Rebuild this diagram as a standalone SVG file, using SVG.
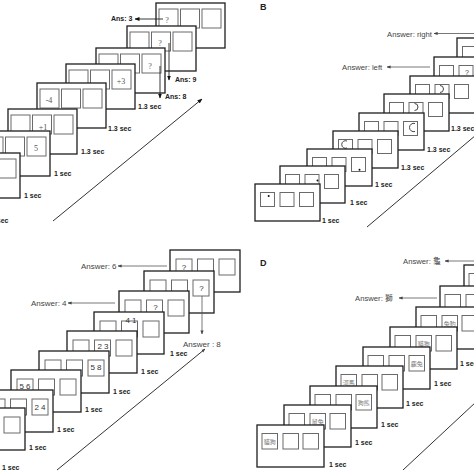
<svg xmlns="http://www.w3.org/2000/svg" width="474" height="474" viewBox="0 0 474 474">
<defs>
<style>
.f{fill:#fff;stroke:#1e1e1e;stroke-width:1.3}
.b{fill:none;stroke:#6a6a6a;stroke-width:1}
.t{font-family:"Liberation Sans",Arial,sans-serif;font-weight:bold;font-size:7px;fill:#222}
.a{font-family:"Liberation Sans",Arial,"Noto Sans CJK TC",sans-serif;font-size:7.7px;fill:#444}
.ac{font-family:"Liberation Sans",Arial,sans-serif;font-size:8px;fill:#444}
.n{font-family:"Liberation Serif","Times New Roman",serif;font-size:8px;fill:#555;text-anchor:middle}
.s{font-family:"Liberation Sans",Arial,sans-serif;font-size:8px;fill:#333;text-anchor:middle}
.c{font-family:"Noto Sans CJK TC","Noto Sans CJK SC",sans-serif;font-size:6px;fill:#777;text-anchor:middle}
.h{font-family:"Liberation Sans",Arial,sans-serif;font-weight:bold;font-size:9px;fill:#222}
.ar{stroke:#555;stroke-width:0.8;fill:none}
.ak{stroke:#222;stroke-width:0.9;fill:none}
.dg{stroke:#333;stroke-width:1;fill:none}
.sh{stroke:#444;stroke-width:1;fill:none}
</style>
<marker id="ah" viewBox="0 0 10 10" refX="9" refY="5" markerWidth="4" markerHeight="4" markerUnits="userSpaceOnUse" orient="auto"><path d="M0,1L10,5L0,9z" fill="#444"/></marker>
<marker id="ak" viewBox="0 0 10 10" refX="9" refY="5" markerWidth="5" markerHeight="5" markerUnits="userSpaceOnUse" orient="auto"><path d="M0,1L10,5L0,9z" fill="#111"/></marker>
</defs>

<!-- Panel A -->
<g id="a1"><rect class="f" x="156" y="3" width="69" height="45"/><rect class="b" x="159" y="9" width="19" height="19"/><rect class="b" x="180.5" y="9" width="19" height="19"/><rect class="b" x="202" y="9" width="19" height="19"/><text class="n" x="167" y="23">?</text></g>
<g id="a2"><rect class="f" x="127" y="26" width="69" height="45"/><rect class="b" x="130" y="32" width="19" height="19"/><rect class="b" x="151.5" y="32" width="19" height="19"/><rect class="b" x="173" y="32" width="19" height="19"/><text class="n" x="160" y="46">?</text></g>
<g id="a3"><rect class="f" x="96" y="48" width="69" height="45"/><rect class="b" x="99" y="54" width="19" height="19"/><rect class="b" x="120.5" y="54" width="19" height="19"/><rect class="b" x="142" y="54" width="19" height="19"/><text class="n" x="150" y="69">?</text></g>
<g id="a4"><rect class="f" x="66" y="64" width="69" height="45"/><rect class="b" x="69" y="70" width="19" height="19"/><rect class="b" x="90.5" y="70" width="19" height="19"/><rect class="b" x="112" y="70" width="19" height="19"/><text class="n" x="121" y="84">+3</text></g>
<g id="a5"><rect class="f" x="37" y="83" width="69" height="45"/><rect class="b" x="40" y="89" width="19" height="19"/><rect class="b" x="61.5" y="89" width="19" height="19"/><rect class="b" x="83" y="89" width="19" height="19"/><text class="n" x="49" y="103">-4</text></g>
<g id="a6"><rect class="f" x="8" y="109" width="69" height="45"/><rect class="b" x="11" y="115" width="19" height="19"/><rect class="b" x="32.5" y="115" width="19" height="19"/><rect class="b" x="54" y="115" width="19" height="19"/><text class="n" x="43" y="130">+1</text></g>
<g id="a7"><rect class="f" x="-19" y="131" width="69" height="45"/><rect class="b" x="-16" y="137" width="19" height="19"/><rect class="b" x="5.5" y="137" width="19" height="19"/><rect class="b" x="27" y="137" width="19" height="19"/><text class="n" x="36" y="151">5</text></g>
<g id="a8"><rect class="f" x="-49" y="153" width="69" height="45"/><rect class="b" x="-46" y="159" width="19" height="19"/><rect class="b" x="-24.5" y="159" width="19" height="19"/><rect class="b" x="-3" y="159" width="19" height="19"/></g>
<g id="a-labels">
<text class="t" x="111" y="21">Ans: 3</text>
<text class="t" x="175" y="82">Ans: 9</text>
<text class="t" x="165" y="99">Ans: 8</text>
<text class="t" x="138" y="108.5">1.3 sec</text>
<text class="t" x="108" y="131">1.3 sec</text>
<text class="t" x="81" y="153.5">1.3 sec</text>
<text class="t" x="54" y="176">1 sec</text>
<text class="t" x="24" y="198">1 sec</text>
<text class="t" x="-9" y="223">1 sec</text>
</g>

<!-- Panel B -->
<text class="h" x="260" y="9.5">B</text>
<g id="b9"><rect class="f" x="457" y="38" width="65" height="37"/><rect class="b" x="462.5" y="46.5" width="14" height="14"/></g>
<g id="b8"><rect class="f" x="434" y="57" width="65" height="37"/><rect class="b" x="439.5" y="65.5" width="14" height="14"/><rect class="b" x="459" y="65.5" width="14" height="14"/><text class="s" x="467" y="75" style="font-size:7px;fill:#444">?</text></g>
<g id="b7"><rect class="f" x="410" y="76" width="65" height="37"/><rect class="b" x="415.5" y="84.5" width="14" height="14"/><rect class="b" x="435" y="84.5" width="14" height="14"/><rect class="b" x="454.5" y="84.5" width="14" height="14"/><path class="sh" d="M440,85.5A3.5,3.5 0 1,1 440,92.5"/></g>
<g id="b6"><rect class="f" x="384" y="94" width="65" height="37"/><rect class="b" x="389.5" y="102.5" width="14" height="14"/><rect class="b" x="409" y="102.5" width="14" height="14"/><rect class="b" x="428.5" y="102.5" width="14" height="14"/><path class="sh" d="M414.5,103.5A3.5,3.5 0 1,1 414.5,110.5"/></g>
<g id="b5"><rect class="f" x="359" y="113" width="65" height="37"/><rect class="b" x="364.5" y="121.5" width="14" height="14"/><rect class="b" x="384" y="121.5" width="14" height="14"/><rect class="b" x="403.5" y="121.5" width="14" height="14"/><path class="sh" d="M415,123.5A4.2,4.2 0 1,0 415,131.5"/></g>
<g id="b4"><rect class="f" x="333" y="131" width="65" height="37"/><rect class="b" x="338.5" y="139.5" width="14" height="14"/><rect class="b" x="358" y="139.5" width="14" height="14"/><rect class="b" x="377.5" y="139.5" width="14" height="14"/><path class="sh" d="M347,141A3.8,3.8 0 1,0 347,148"/></g>
<g id="b3"><rect class="f" x="307" y="149" width="65" height="37"/><rect class="b" x="312.5" y="157.5" width="14" height="14"/><rect class="b" x="332" y="157.5" width="14" height="14"/><rect class="b" x="351.5" y="157.5" width="14" height="14"/><circle cx="359.5" cy="169.8" r="1" fill="#111"/></g>
<g id="b2"><rect class="f" x="280" y="166" width="65" height="37"/><rect class="b" x="285.5" y="174.5" width="14" height="14"/><rect class="b" x="305" y="174.5" width="14" height="14"/><rect class="b" x="324.5" y="174.5" width="14" height="14"/><circle cx="317.5" cy="180.5" r="1" fill="#111"/></g>
<g id="b1"><rect class="f" x="255" y="184" width="65" height="37"/><rect class="b" x="260.5" y="192.5" width="14" height="14"/><rect class="b" x="280" y="192.5" width="14" height="14"/><rect class="b" x="299.5" y="192.5" width="14" height="14"/><circle cx="268.7" cy="196" r="1" fill="#111"/></g>
<g id="b-labels">
<text class="a" x="387" y="36.5">Answer: right</text>
<text class="a" x="342" y="69.5">Answer: left</text>
<text class="t" x="322" y="222.5">1 sec</text>
<text class="t" x="350" y="204.5">1 sec</text>
<text class="t" x="375" y="186.5">1 sec</text>
<text class="t" x="401" y="169.5">1.3 sec</text>
<text class="t" x="427" y="151.5">1.3 sec</text>
<text class="t" x="451" y="130.5">1.3 sec</text>
</g>

<!-- Panel C -->
<g id="c1"><rect class="f" x="170" y="250" width="70" height="42"/><rect class="b" x="176" y="259" width="16" height="16"/><rect class="b" x="197.5" y="259" width="16" height="16"/><rect class="b" x="219" y="259" width="16" height="16"/><text class="s" x="184" y="269.5">?</text></g>
<g id="c2"><rect class="f" x="144" y="271" width="70" height="42"/><rect class="b" x="150" y="280" width="16" height="16"/><rect class="b" x="171.5" y="280" width="16" height="16"/><rect class="b" x="193" y="280" width="16" height="16"/><text class="s" x="201.5" y="290.5">?</text></g>
<g id="c3"><rect class="f" x="119" y="291" width="70" height="42"/><rect class="b" x="125" y="300" width="16" height="16"/><rect class="b" x="146.5" y="300" width="16" height="16"/><rect class="b" x="168" y="300" width="16" height="16"/><text class="s" x="155.5" y="310">?</text></g>
<g id="c4"><rect class="f" x="94" y="312" width="70" height="42"/><rect class="b" x="100" y="321" width="16" height="16"/><rect class="b" x="121.5" y="321" width="16" height="16"/><rect class="b" x="143" y="321" width="16" height="16"/><text class="s" x="131" y="322.5">4 1</text></g>
<g id="c5"><rect class="f" x="67" y="331" width="70" height="42"/><rect class="b" x="73" y="340" width="16" height="16"/><rect class="b" x="94.5" y="340" width="16" height="16"/><rect class="b" x="116" y="340" width="16" height="16"/><text class="s" x="103" y="349">2 3</text></g>
<g id="c6"><rect class="f" x="39" y="351" width="70" height="42"/><rect class="b" x="45" y="360" width="16" height="16"/><rect class="b" x="66.5" y="360" width="16" height="16"/><rect class="b" x="88" y="360" width="16" height="16"/><text class="s" x="96" y="370">5 8</text></g>
<g id="c7"><rect class="f" x="11" y="370" width="70" height="42"/><rect class="b" x="17" y="379" width="16" height="16"/><rect class="b" x="38.5" y="379" width="16" height="16"/><rect class="b" x="60" y="379" width="16" height="16"/><text class="s" x="25" y="389">5 6</text></g>
<g id="c8"><rect class="f" x="-17" y="390" width="70" height="42"/><rect class="b" x="-11" y="399" width="16" height="16"/><rect class="b" x="10.5" y="399" width="16" height="16"/><rect class="b" x="32" y="399" width="16" height="16"/><text class="s" x="40" y="410">2 4</text></g>
<g id="c9"><rect class="f" x="-45" y="408" width="70" height="42"/><rect class="b" x="-39" y="417" width="16" height="16"/><rect class="b" x="-17.5" y="417" width="16" height="16"/><rect class="b" x="4" y="417" width="16" height="16"/></g>
<g id="c-labels">
<text class="ac" x="81" y="269">Answer: 6</text>
<text class="ac" x="31" y="306">Answer: 4</text>
<text class="ac" x="183" y="347">Answer : 8</text>
<text class="t" x="170" y="356">1 sec</text>
<text class="t" x="141" y="374">1 sec</text>
<text class="t" x="113" y="394">1 sec</text>
<text class="t" x="85" y="412">1 sec</text>
<text class="t" x="57" y="432">1 sec</text>
<text class="t" x="29" y="450">1 sec</text>
<text class="t" x="2" y="469.5">1 sec</text>
</g>

<!-- Panel D -->
<text class="h" x="260" y="265.5">D</text>
<g id="d9"><rect class="f" x="464" y="265" width="67" height="42"/><rect class="b" x="469" y="273.5" width="15.5" height="15.5"/></g>
<g id="d8"><rect class="f" x="440" y="286" width="67" height="42"/><rect class="b" x="445" y="294.5" width="15.5" height="15.5"/><rect class="b" x="466" y="294.5" width="15.5" height="15.5"/></g>
<g id="d7"><rect class="f" x="416" y="307" width="67" height="42"/><rect class="b" x="421" y="315.5" width="15.5" height="15.5"/><rect class="b" x="442" y="315.5" width="15.5" height="15.5"/><rect class="b" x="462" y="315.5" width="15.5" height="15.5"/><text class="c" x="449.75" y="325.5">兔豹</text></g>
<g id="d6"><rect class="f" x="390" y="327" width="67" height="42"/><rect class="b" x="395" y="335.5" width="15.5" height="15.5"/><rect class="b" x="416" y="335.5" width="15.5" height="15.5"/><rect class="b" x="436" y="335.5" width="15.5" height="15.5"/><text class="c" x="423.75" y="345.5">貓狗</text></g>
<g id="d5"><rect class="f" x="363" y="347" width="67" height="42"/><rect class="b" x="368" y="355.5" width="15.5" height="15.5"/><rect class="b" x="389" y="355.5" width="15.5" height="15.5"/><rect class="b" x="409" y="355.5" width="15.5" height="15.5"/><text class="c" x="416.75" y="365.5">鹿兔</text></g>
<g id="d4"><rect class="f" x="336" y="366" width="67" height="42"/><rect class="b" x="341" y="374.5" width="15.5" height="15.5"/><rect class="b" x="362" y="374.5" width="15.5" height="15.5"/><rect class="b" x="382" y="374.5" width="15.5" height="15.5"/><text class="c" x="348.75" y="384.5">河馬</text></g>
<g id="d3"><rect class="f" x="310" y="386" width="67" height="42"/><rect class="b" x="315" y="394.5" width="15.5" height="15.5"/><rect class="b" x="336" y="394.5" width="15.5" height="15.5"/><rect class="b" x="356" y="394.5" width="15.5" height="15.5"/><text class="c" x="363.75" y="404.5">狗熊</text></g>
<g id="d2"><rect class="f" x="284" y="405" width="67" height="42"/><rect class="b" x="289" y="413.5" width="15.5" height="15.5"/><rect class="b" x="310" y="413.5" width="15.5" height="15.5"/><rect class="b" x="330" y="413.5" width="15.5" height="15.5"/><text class="c" x="317.75" y="423.5">鼠兔</text></g>
<g id="d1"><rect class="f" x="257" y="425" width="67" height="42"/><rect class="b" x="262" y="433.5" width="15.5" height="15.5"/><rect class="b" x="283" y="433.5" width="15.5" height="15.5"/><rect class="b" x="303" y="433.5" width="15.5" height="15.5"/><text class="c" x="269.75" y="443.5">貓狗</text></g>
<g id="d-labels">
<text class="a" x="403" y="263.5">Answer: 龜</text>
<text class="a" x="355" y="300.5">Answer: 獅</text>
<text class="t" x="329" y="467">1 sec</text>
<text class="t" x="355" y="445">1 sec</text>
<text class="t" x="381" y="427">1 sec</text>
<text class="t" x="406" y="406">1 sec</text>
<text class="t" x="434" y="386">1 sec</text>
<text class="t" x="460" y="365.5">1 sec</text>
</g>

<!-- Connectors -->
<g id="connectors">
<line class="ak" x1="163" y1="19" x2="135" y2="19" marker-end="url(#ak)"/>
<line class="ak" x1="169" y1="43" x2="169" y2="80" marker-end="url(#ak)"/>
<line class="ak" x1="160" y1="66" x2="160" y2="98" marker-end="url(#ak)"/>
<line class="dg" x1="53" y1="221" x2="202" y2="99" marker-end="url(#ak)"/>
<line class="ar" x1="474" y1="33.5" x2="434" y2="33.5" marker-end="url(#ah)"/>
<line class="ar" x1="430" y1="67" x2="387" y2="67" marker-end="url(#ah)"/>
<line class="dg" x1="367" y1="227" x2="476" y2="135"/>
<line class="ar" x1="167" y1="266" x2="118" y2="266" marker-end="url(#ah)"/>
<line class="ar" x1="115" y1="303" x2="68" y2="303" marker-end="url(#ah)"/>
<line class="ar" x1="202" y1="296" x2="202" y2="334" marker-end="url(#ah)"/>
<line class="dg" x1="57" y1="470" x2="205" y2="349" marker-end="url(#ah)"/>
<line class="ar" x1="474" y1="261" x2="445" y2="261" marker-end="url(#ah)"/>
<line class="ar" x1="437" y1="298" x2="399" y2="298" marker-end="url(#ah)"/>
<line class="dg" x1="403" y1="470" x2="476" y2="402"/>
</g>
</svg>
